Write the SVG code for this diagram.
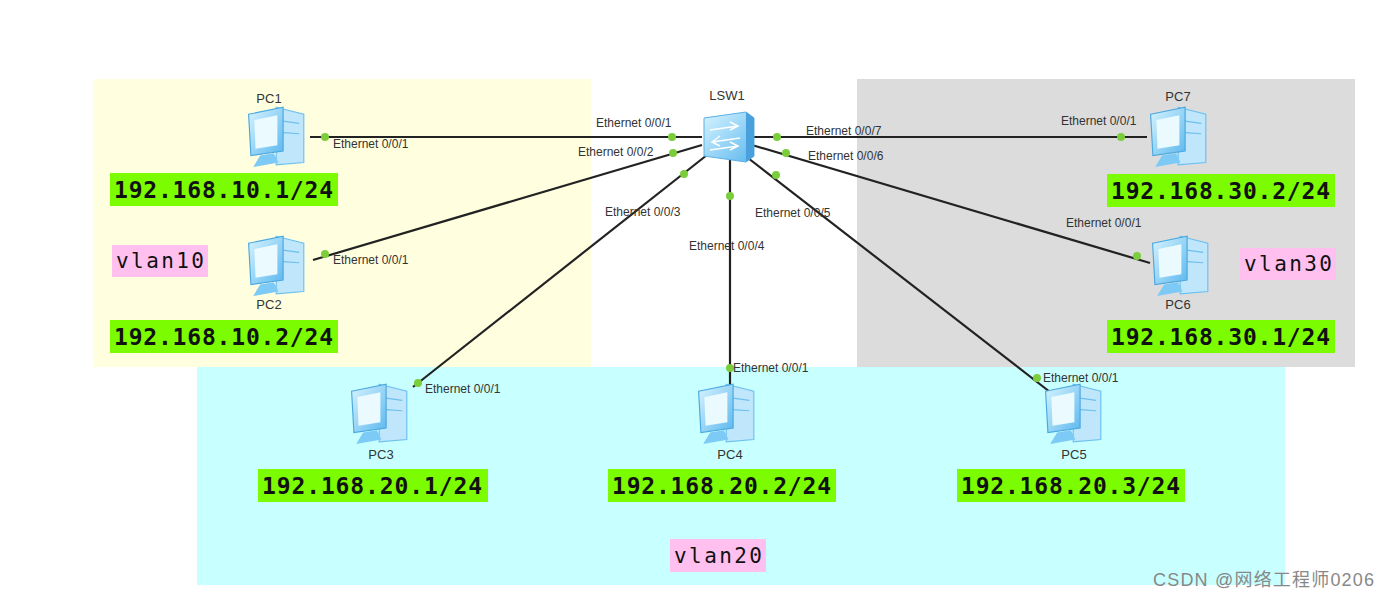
<svg xmlns="http://www.w3.org/2000/svg" width="1388" height="598" viewBox="0 0 1388 598">
<style>
.lbl{font-family:"Liberation Sans",Arial,sans-serif;font-size:12px;fill:#333}
.nm{font-family:"Liberation Sans",Arial,sans-serif;font-size:13px;fill:#333;text-anchor:middle}
.ip{font-family:"DejaVu Sans Mono","Liberation Mono",monospace;font-size:23px;font-weight:bold;fill:#111}
.ipb{fill:#7cfc00}
.vl{font-family:"DejaVu Sans Mono","Liberation Mono",monospace;font-size:21px;fill:#111}
.vlb{fill:#ffc0f0}
.ln{stroke:#222;stroke-width:2.2;fill:none}
.dot{fill:#7ccd3c}
</style>
<defs>
<linearGradient id="g" x1="0" y1="0" x2="1" y2="1"><stop offset="0" stop-color="#d8f4ff"/><stop offset="1" stop-color="#5cb8ee"/></linearGradient>
<g id="pc" transform="scale(1.15)">
<path d="M28 2 L52 8 L52 50 L28 52 Z" fill="#bfe6fb" stroke="#6cc0ef"/>
<line x1="34" y1="14" x2="48" y2="16" stroke="#6cc0ef"/><line x1="34" y1="24" x2="48" y2="25" stroke="#6cc0ef"/>
<path d="M4 8 L34 2 L34 40 L6 44 Z" fill="url(#g)" stroke="#4aa8e0"/>
<path d="M9 13 L29 9 L29 35 L10 38 Z" fill="#eafaff"/>
<path d="M14 44 L26 42 L30 50 L8 54 Z" fill="#7ccaf5"/>
</g>
<g id="sw">
<path d="M4 8 L46 2 L54 8 L54 46 L46 52 L4 46 Z" fill="url(#g)" stroke="#5ab0e6"/>
<path d="M46 2 L54 8 L54 46 L46 52 Z" fill="#4aa0dc"/>
<path d="M10 20 L38 16 M30 12 L38 16 L30 20 M40 28 L12 32 M20 26 L12 32 L20 36 M10 40 L38 36 M30 32 L38 36 L30 40" stroke="#fff" stroke-width="1.5" fill="none"/>
</g>
</defs>
<rect width="1388" height="598" fill="#fff"/>
<rect x="93" y="79" width="498" height="288" fill="#ffffe0"/>
<rect x="857" y="79" width="498" height="288" fill="#dcdcdc"/>
<rect x="197" y="367" width="1088" height="218" fill="#c8ffff"/>
<g id="connectors">
<line class="ln" x1="310" y1="137" x2="702" y2="137"/>
<line class="ln" x1="313" y1="260" x2="702" y2="145"/>
<line class="ln" x1="413" y1="387" x2="707" y2="155"/>
<line class="ln" x1="730" y1="160" x2="730" y2="385"/>
<line class="ln" x1="1050" y1="392" x2="748" y2="158"/>
<line class="ln" x1="1150" y1="263" x2="752" y2="145"/>
<line class="ln" x1="752" y1="137" x2="1147" y2="137"/>
<circle class="dot" cx="325" cy="137" r="4"/><circle class="dot" cx="672" cy="137" r="4"/>
<circle class="dot" cx="325" cy="254" r="4"/><circle class="dot" cx="673" cy="153" r="4"/>
<circle class="dot" cx="418" cy="383" r="4"/><circle class="dot" cx="684" cy="174" r="4"/>
<circle class="dot" cx="730" cy="196" r="4"/><circle class="dot" cx="730" cy="368" r="4"/>
<circle class="dot" cx="776" cy="175" r="4"/><circle class="dot" cx="1037" cy="378" r="4"/>
<circle class="dot" cx="786" cy="153" r="4"/><circle class="dot" cx="1137" cy="256" r="4"/>
<circle class="dot" cx="777" cy="137" r="4"/><circle class="dot" cx="1121" cy="137" r="4"/>
<text class="lbl" x="333" y="148">Ethernet 0/0/1</text>
<text class="lbl" x="596" y="127">Ethernet 0/0/1</text>
<text class="lbl" x="578" y="156">Ethernet 0/0/2</text>
<text class="lbl" x="605" y="216">Ethernet 0/0/3</text>
<text class="lbl" x="689" y="250">Ethernet 0/0/4</text>
<text class="lbl" x="755" y="217">Ethernet 0/0/5</text>
<text class="lbl" x="808" y="160">Ethernet 0/0/6</text>
<text class="lbl" x="806" y="135">Ethernet 0/0/7</text>
<text class="lbl" x="1061" y="125">Ethernet 0/0/1</text>
<text class="lbl" x="1066" y="227">Ethernet 0/0/1</text>
<text class="lbl" x="1043" y="382">Ethernet 0/0/1</text>
<text class="lbl" x="733" y="372">Ethernet 0/0/1</text>
<text class="lbl" x="425" y="393">Ethernet 0/0/1</text>
<text class="lbl" x="333" y="264">Ethernet 0/0/1</text>
</g>
<g id="LSW1"><use href="#sw" x="700" y="110"/><text class="nm" x="727" y="100">LSW1</text></g>
<g id="PC1"><use href="#pc" x="244" y="105"/><text class="nm" x="269" y="103">PC1</text>
<rect class="ipb" x="110" y="173" width="228" height="33"/><text class="ip" x="114" y="198" textLength="219">192.168.10.1/24</text></g>
<g id="PC2"><use href="#pc" x="244" y="234"/><text class="nm" x="269" y="309">PC2</text>
<rect class="ipb" x="110" y="320" width="228" height="33"/><text class="ip" x="114" y="345" textLength="219">192.168.10.2/24</text></g>
<g id="PC3"><use href="#pc" x="347" y="382"/><text class="nm" x="381" y="459">PC3</text>
<rect class="ipb" x="258" y="469" width="230" height="33"/><text class="ip" x="262" y="494" textLength="220">192.168.20.1/24</text></g>
<g id="PC4"><use href="#pc" x="694" y="382"/><text class="nm" x="730" y="459">PC4</text>
<rect class="ipb" x="608" y="469" width="228" height="33"/><text class="ip" x="612" y="494" textLength="219">192.168.20.2/24</text></g>
<g id="PC5"><use href="#pc" x="1041" y="382"/><text class="nm" x="1074" y="459">PC5</text>
<rect class="ipb" x="957" y="469" width="228" height="33"/><text class="ip" x="961" y="494" textLength="219">192.168.20.3/24</text></g>
<g id="PC6"><use href="#pc" x="1148" y="234"/><text class="nm" x="1178" y="309">PC6</text>
<rect class="ipb" x="1107" y="320" width="228" height="33"/><text class="ip" x="1111" y="345" textLength="219">192.168.30.1/24</text></g>
<g id="PC7"><use href="#pc" x="1146" y="105"/><text class="nm" x="1178" y="101">PC7</text>
<rect class="ipb" x="1107" y="174" width="228" height="33"/><text class="ip" x="1111" y="199" textLength="219">192.168.30.2/24</text></g>
<g id="vlan10"><rect class="vlb" x="112" y="245" width="96" height="32"/><text class="vl" x="116" y="268" textLength="88">vlan10</text></g>
<g id="vlan30"><rect class="vlb" x="1240" y="248" width="96" height="32"/><text class="vl" x="1244" y="271" textLength="88">vlan30</text></g>
<g id="vlan20"><rect class="vlb" x="670" y="539" width="96" height="33"/><text class="vl" x="674" y="563" textLength="88">vlan20</text></g>
<text x="1153" y="586" font-family="'Liberation Sans','Noto Sans CJK SC',sans-serif" font-size="18" fill="#888" textLength="221">CSDN @网络工程师0206</text>
</svg>
